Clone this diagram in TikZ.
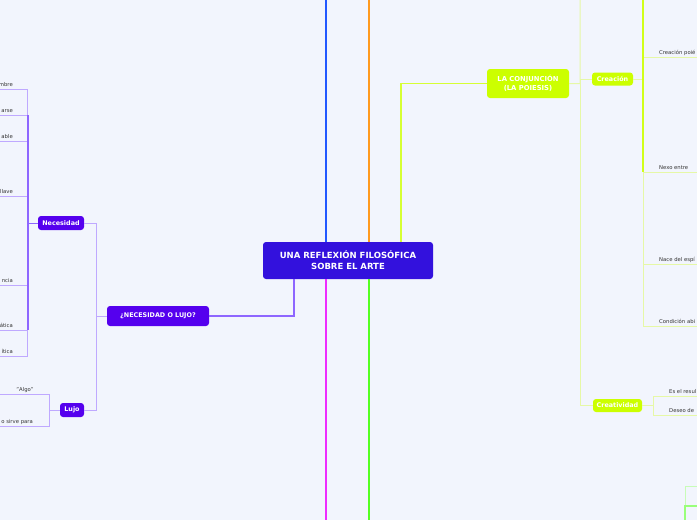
\documentclass[tikz,border=0pt]{standalone}
\usepackage{fontspec}
\setmainfont{DejaVu Sans}
\definecolor{fondo}{HTML}{F2F5FD}
\definecolor{raiz}{HTML}{3311DD}
\definecolor{morado}{HTML}{5500EE}
\definecolor{moradoc}{HTML}{8E66FF}
\definecolor{lila}{HTML}{BFA9FF}
\definecolor{lima}{HTML}{CCFF00}
\definecolor{limac}{HTML}{E6F8A6}
\definecolor{azul}{HTML}{2258FF}
\definecolor{naranja}{HTML}{FF9A1F}
\definecolor{rosa}{HTML}{EE2CFF}
\definecolor{verde}{HTML}{55FF22}
\definecolor{verdec}{HTML}{C8FCB8}
\definecolor{tinta}{HTML}{333333}

\begin{document}
\begin{tikzpicture}
  [x=1pt,y=-1pt,every node/.style={inner sep=0pt},
   tema/.style={rectangle,rounded corners=3pt,text=white,align=center,
     font=\bfseries\fontsize{6.4}{8}\selectfont},
   hoja/.style={font=\fontsize{5.3}{6}\selectfont,text=tinta},
   rama/.style={line width=2.2pt},
   enlace/.style={line width=1pt}]
  \fill[fondo] (0,0) rectangle (697,520);
  \useasboundingbox (0,0) rectangle (697,520);

  \node[tema,fill=raiz,minimum width=170,minimum height=37,
    font=\bfseries\fontsize{8.5}{11}\selectfont] (arte) at (348,260.5)
    {UNA REFLEXIÓN FILOSÓFICA\\SOBRE EL ARTE};
  \node[tema,fill=morado,minimum width=102,minimum height=20] (nol) at (158,316) {¿NECESIDAD O LUJO?};
  \node[tema,fill=morado,minimum width=46,minimum height=14] (nec) at (61,223) {Necesidad};
  \node[tema,fill=morado,minimum width=24,minimum height=14] (lujo) at (72,410) {Lujo};
  \node[tema,fill=lima,minimum width=82,minimum height=29,
    font=\bfseries\fontsize{6.8}{8.6}\selectfont] (conj) at (528,83.5) {LA CONJUNCIÓN\\(LA POIESIS)};
  \node[tema,fill=lima,minimum width=41,minimum height=13] (crea) at (612.5,79) {Creación};
  \node[tema,fill=lima,minimum width=49,minimum height=13] (crtv) at (617.5,405.5) {Creatividad};

  % ramas del centro
  \coordinate (azulf) at (326,0);
  \coordinate (naranjaf) at (369,0);
  \coordinate (rosaf) at (326,520);
  \coordinate (verdef) at (369,520);
  \coordinate (p0) at (294,0);
  \coordinate (p3) at (401,0);
  \draw[rama,azul] (arte.north -| azulf) -- (azulf);
  \draw[rama,naranja] (arte.north -| naranjaf) -- (naranjaf);
  \draw[rama,rosa] (arte.south -| rosaf) -- (rosaf);
  \draw[rama,verde] (arte.south -| verdef) -- (verdef);
  \draw[line width=1.2pt,moradoc] (arte.south -| p0) |- (nol.east);
  \draw[line width=1.5pt,lima!80!white] (arte.north -| p3) |- (conj.west);

  % necesidad o lujo
  \draw[enlace,lila] (nol.west) -- ++(-10,0) |- (nec.east);
  \draw[enlace,lila] (nol.west) -- ++(-10,0) |- (lujo.east);

  \coordinate (n0) at (28,0);
  \foreach \y/\t in {89/mbre,115/arse,141/able,196/llave,285/ncia,330/ática,356/ítica}{
    \coordinate (h\y) at (0,\y);
    \node[hoja,anchor=base east] (t\y) at (13,\y-3) {\t};
    \draw[enlace,lila] (nec.west) -- ++(-10,0) |- (h\y);
  }
  \draw[enlace,moradoc] (nec.west) -- (nec.west -| n0);
  \draw[line width=1.2pt,moradoc] (h115 -| n0) -- (h330 -| n0);

  \coordinate (h394) at (0,394);
  \coordinate (h426) at (0,426);
  \node[hoja,anchor=base] (t394) at (25,391) {"Algo"};
  \node[hoja,anchor=base east] (t426) at (33,423) {o sirve para};
  \foreach \y in {394,426}
    \draw[enlace,lila] (lujo.west) -- ++(-10,0) |- (h\y);

  % la conjuncion
  \coordinate (c0) at (580,0);
  \draw[enlace,limac] (conj.east) -- ++(11,0) -- (c0);
  \draw[enlace,limac] (conj.east) -- ++(11,0) |- (crea.west);
  \draw[enlace,limac] (conj.east) -- ++(11,0) |- (crtv.west);

  \coordinate (k0) at (643,0);
  \foreach \y/\t in {57/Creación poié,172/Nexo entre,264/Nace del espí,326/Condición abi}{
    \coordinate (k\y) at (697,\y);
    \node[hoja,anchor=base west] (u\y) at (659,\y-3) {\t};
    \draw[enlace,limac] (crea.east) -- ++(10,0) |- (k\y);
  }
  \draw[line width=1.4pt,lima!90!white] (k0) -- (k172 -| k0);

  \foreach \y/\t in {396/Es el resul,415/Deseo de}{
    \coordinate (k\y) at (697,\y);
    \node[hoja,anchor=base west] (u\y) at (669,\y-3) {\t};
    \draw[enlace,limac] (crtv.east) -- ++(11,0) |- (k\y);
  }

  % esquina verde
  \coordinate (g0) at (685,520);
  \coordinate (g1) at (697,486);
  \coordinate (g2) at (697,506);
  \draw[enlace,verdec] (g0) |- (g1);
  \draw[line width=1.2pt,verde!60!white] (g0) |- (g2);
\end{tikzpicture}
\end{document}
